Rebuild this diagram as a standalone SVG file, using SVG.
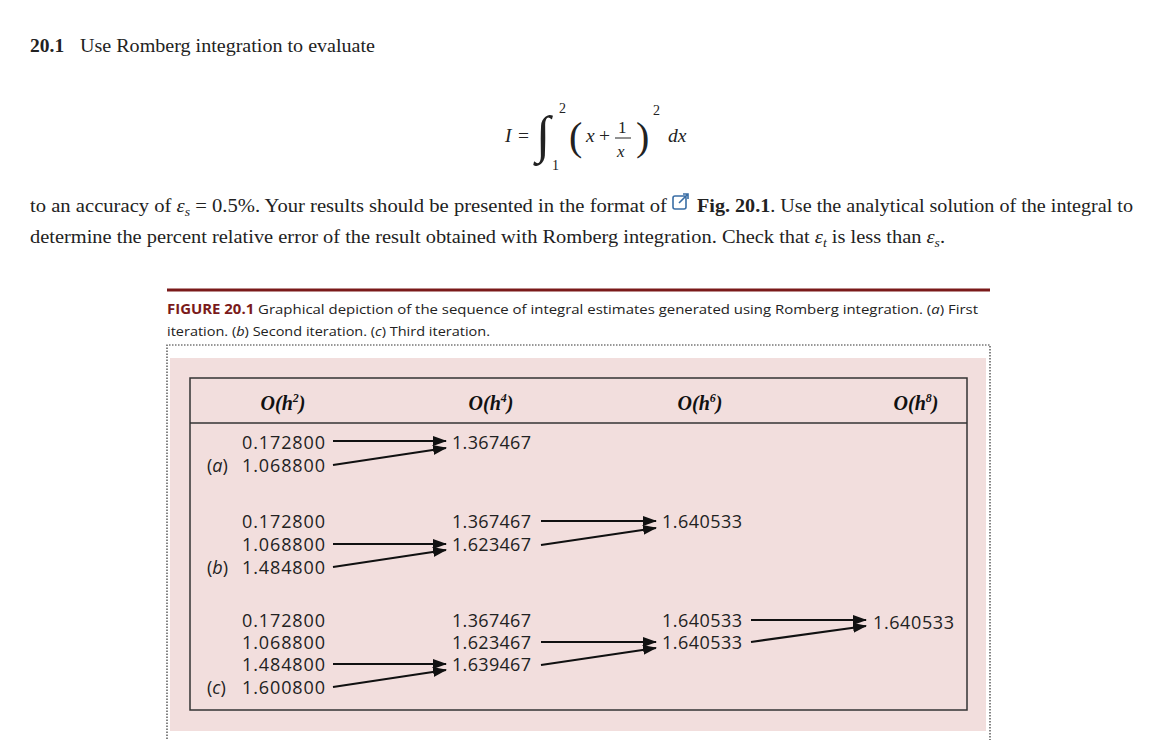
<svg xmlns="http://www.w3.org/2000/svg" width="1152" height="740" viewBox="0 0 1152 740">
<defs>
<marker id="ah" markerWidth="14" markerHeight="10" refX="13" refY="5" orient="auto" markerUnits="userSpaceOnUse"><path d="M0,0 L14,5 L0,10 Z" fill="#111"/></marker>
<style>
.s{font-family:"Liberation Serif",serif;font-size:19.5px;fill:#222}
.n{font-family:"Open Sans","Liberation Sans",sans-serif;font-size:18px;fill:#222}
.c{font-family:"Open Sans","Liberation Sans",sans-serif;font-size:13.5px;fill:#222}
.h{font-family:"Liberation Serif",serif;font-size:20px;font-style:italic;font-weight:bold;fill:#111}
.a{stroke:#111;stroke-width:2.2;fill:none;marker-end:url(#ah)}
</style>
</defs>
<rect width="1152" height="740" fill="#fff"/>
<text x="30" y="52" class="s" font-weight="bold" fill="#6b1a1a">20.1</text>
<text x="80" y="52" class="s" textLength="295" lengthAdjust="spacingAndGlyphs">Use Romberg integration to evaluate</text>
<g class="s" font-size="21">
<text x="505" y="142" font-style="italic">I</text>
<text x="518" y="142">=</text>
<text x="536" y="152" font-size="52" font-style="italic">∫</text>
<text x="559" y="113" font-size="14">2</text>
<text x="552" y="170" font-size="14">1</text>
<text x="569" y="150" font-size="40">(</text>
<text x="586" y="142" font-style="italic">x</text>
<text x="599" y="142">+</text>
<text x="618" y="133" font-size="17">1</text>
<line x1="615" y1="138" x2="631" y2="138" stroke="#222" stroke-width="1"/>
<text x="617" y="157" font-size="17" font-style="italic">x</text>
<text x="636" y="150" font-size="40">)</text>
<text x="653" y="115" font-size="14">2</text>
<text x="668" y="142" font-style="italic">dx</text>
</g>
<text x="30" y="212" class="s" textLength="637" lengthAdjust="spacingAndGlyphs">to an accuracy of <tspan font-style="italic">ε<tspan font-size="13" dy="4">s</tspan></tspan><tspan dy="-4"> = 0.5%. Your results should be presented in the format of</tspan></text>
<rect x="673" y="196" width="13" height="13" fill="none" stroke="#3a6ea5" stroke-width="1.6" rx="2"/>
<path d="M679,203 L688,194 M683,194 L688,194 L688,199" stroke="#3a6ea5" stroke-width="1.6" fill="none"/>
<text x="697" y="212" class="s" textLength="436" lengthAdjust="spacingAndGlyphs"><tspan font-weight="bold">Fig. 20.1</tspan>. Use the analytical solution of the integral to</text>
<text x="30" y="243" class="s" textLength="915" lengthAdjust="spacingAndGlyphs">determine the percent relative error of the result obtained with Romberg integration. Check that <tspan font-style="italic">ε<tspan font-size="13" dy="4">t</tspan></tspan><tspan dy="-4"> is less than </tspan><tspan font-style="italic">ε<tspan font-size="13" dy="4">s</tspan></tspan><tspan dy="-4">.</tspan></text>
<line x1="167" y1="290" x2="990" y2="290" stroke="#7a1a1a" stroke-width="3"/>
<text x="167" y="314" class="c" textLength="811" lengthAdjust="spacingAndGlyphs"><tspan fill="#7a1a1a" font-weight="bold">FIGURE 20.1</tspan>  Graphical depiction of the sequence of integral estimates generated using Romberg integration. (<tspan font-style="italic">a</tspan>) First</text>
<text x="167" y="336" class="c" textLength="323" lengthAdjust="spacingAndGlyphs">iteration. (<tspan font-style="italic">b</tspan>) Second iteration. (<tspan font-style="italic">c</tspan>) Third iteration.</text>
<path d="M167,742 L167,345 L990,345 L990,742" fill="none" stroke="#333" stroke-width="1.2" stroke-dasharray="1.5 1.5"/>
<rect x="170" y="358" width="816" height="373" fill="#f2dedd"/>
<g id="table">
<rect x="190" y="378" width="777" height="332" fill="none" stroke="#333" stroke-width="1.5"/>
<line x1="190" y1="423" x2="967" y2="423" stroke="#333" stroke-width="1.5"/>
<text x="283" y="410" class="h" text-anchor="middle">O(h<tspan font-size="12" dy="-8">2</tspan><tspan dy="8">)</tspan></text>
<text x="491" y="410" class="h" text-anchor="middle">O(h<tspan font-size="12" dy="-8">4</tspan><tspan dy="8">)</tspan></text>
<text x="700" y="410" class="h" text-anchor="middle">O(h<tspan font-size="12" dy="-8">6</tspan><tspan dy="8">)</tspan></text>
<text x="916" y="410" class="h" text-anchor="middle">O(h<tspan font-size="12" dy="-8">8</tspan><tspan dy="8">)</tspan></text>
</g>
<g id="iter-a" class="n" lengthAdjust="spacingAndGlyphs">
<text x="242" y="449" textLength="83">0.172800</text>
<text x="207" y="472">(<tspan font-style="italic">a</tspan>)</text>
<text x="242" y="472" textLength="83">1.068800</text>
<text x="452" y="449" textLength="79">1.367467</text>
</g>
<g id="iter-b" class="n">
<text x="242" y="528" textLength="83">0.172800</text>
<text x="242" y="551" textLength="83">1.068800</text>
<text x="207" y="574">(<tspan font-style="italic">b</tspan>)</text>
<text x="242" y="574" textLength="83">1.484800</text>
<text x="452" y="528" textLength="79">1.367467</text>
<text x="452" y="551" textLength="79">1.623467</text>
<text x="662" y="528" textLength="80">1.640533</text>
</g>
<g id="iter-c" class="n">
<text x="242" y="627" textLength="83">0.172800</text>
<text x="242" y="649" textLength="83">1.068800</text>
<text x="242" y="671" textLength="83">1.484800</text>
<text x="207" y="694">(<tspan font-style="italic">c</tspan>)</text>
<text x="242" y="694" textLength="83">1.600800</text>
<text x="452" y="627" textLength="79">1.367467</text>
<text x="452" y="649" textLength="79">1.623467</text>
<text x="452" y="671" textLength="79">1.639467</text>
<text x="662" y="627" textLength="80">1.640533</text>
<text x="662" y="649" textLength="80">1.640533</text>
<text x="873" y="629" textLength="81">1.640533</text>
</g>
<g id="connectors">
<line class="a" x1="333" y1="441" x2="446" y2="441"/>
<line class="a" x1="333" y1="465" x2="446" y2="448"/>
<line class="a" x1="333" y1="544" x2="446" y2="544"/>
<line class="a" x1="333" y1="567" x2="446" y2="550"/>
<line class="a" x1="541" y1="521" x2="656" y2="521"/>
<line class="a" x1="541" y1="545" x2="656" y2="528"/>
<line class="a" x1="333" y1="664" x2="446" y2="664"/>
<line class="a" x1="333" y1="687" x2="446" y2="670"/>
<line class="a" x1="541" y1="642" x2="656" y2="642"/>
<line class="a" x1="541" y1="665" x2="656" y2="648"/>
<line class="a" x1="751" y1="620" x2="866" y2="620"/>
<line class="a" x1="751" y1="642" x2="866" y2="626"/>
</g>
</svg>
